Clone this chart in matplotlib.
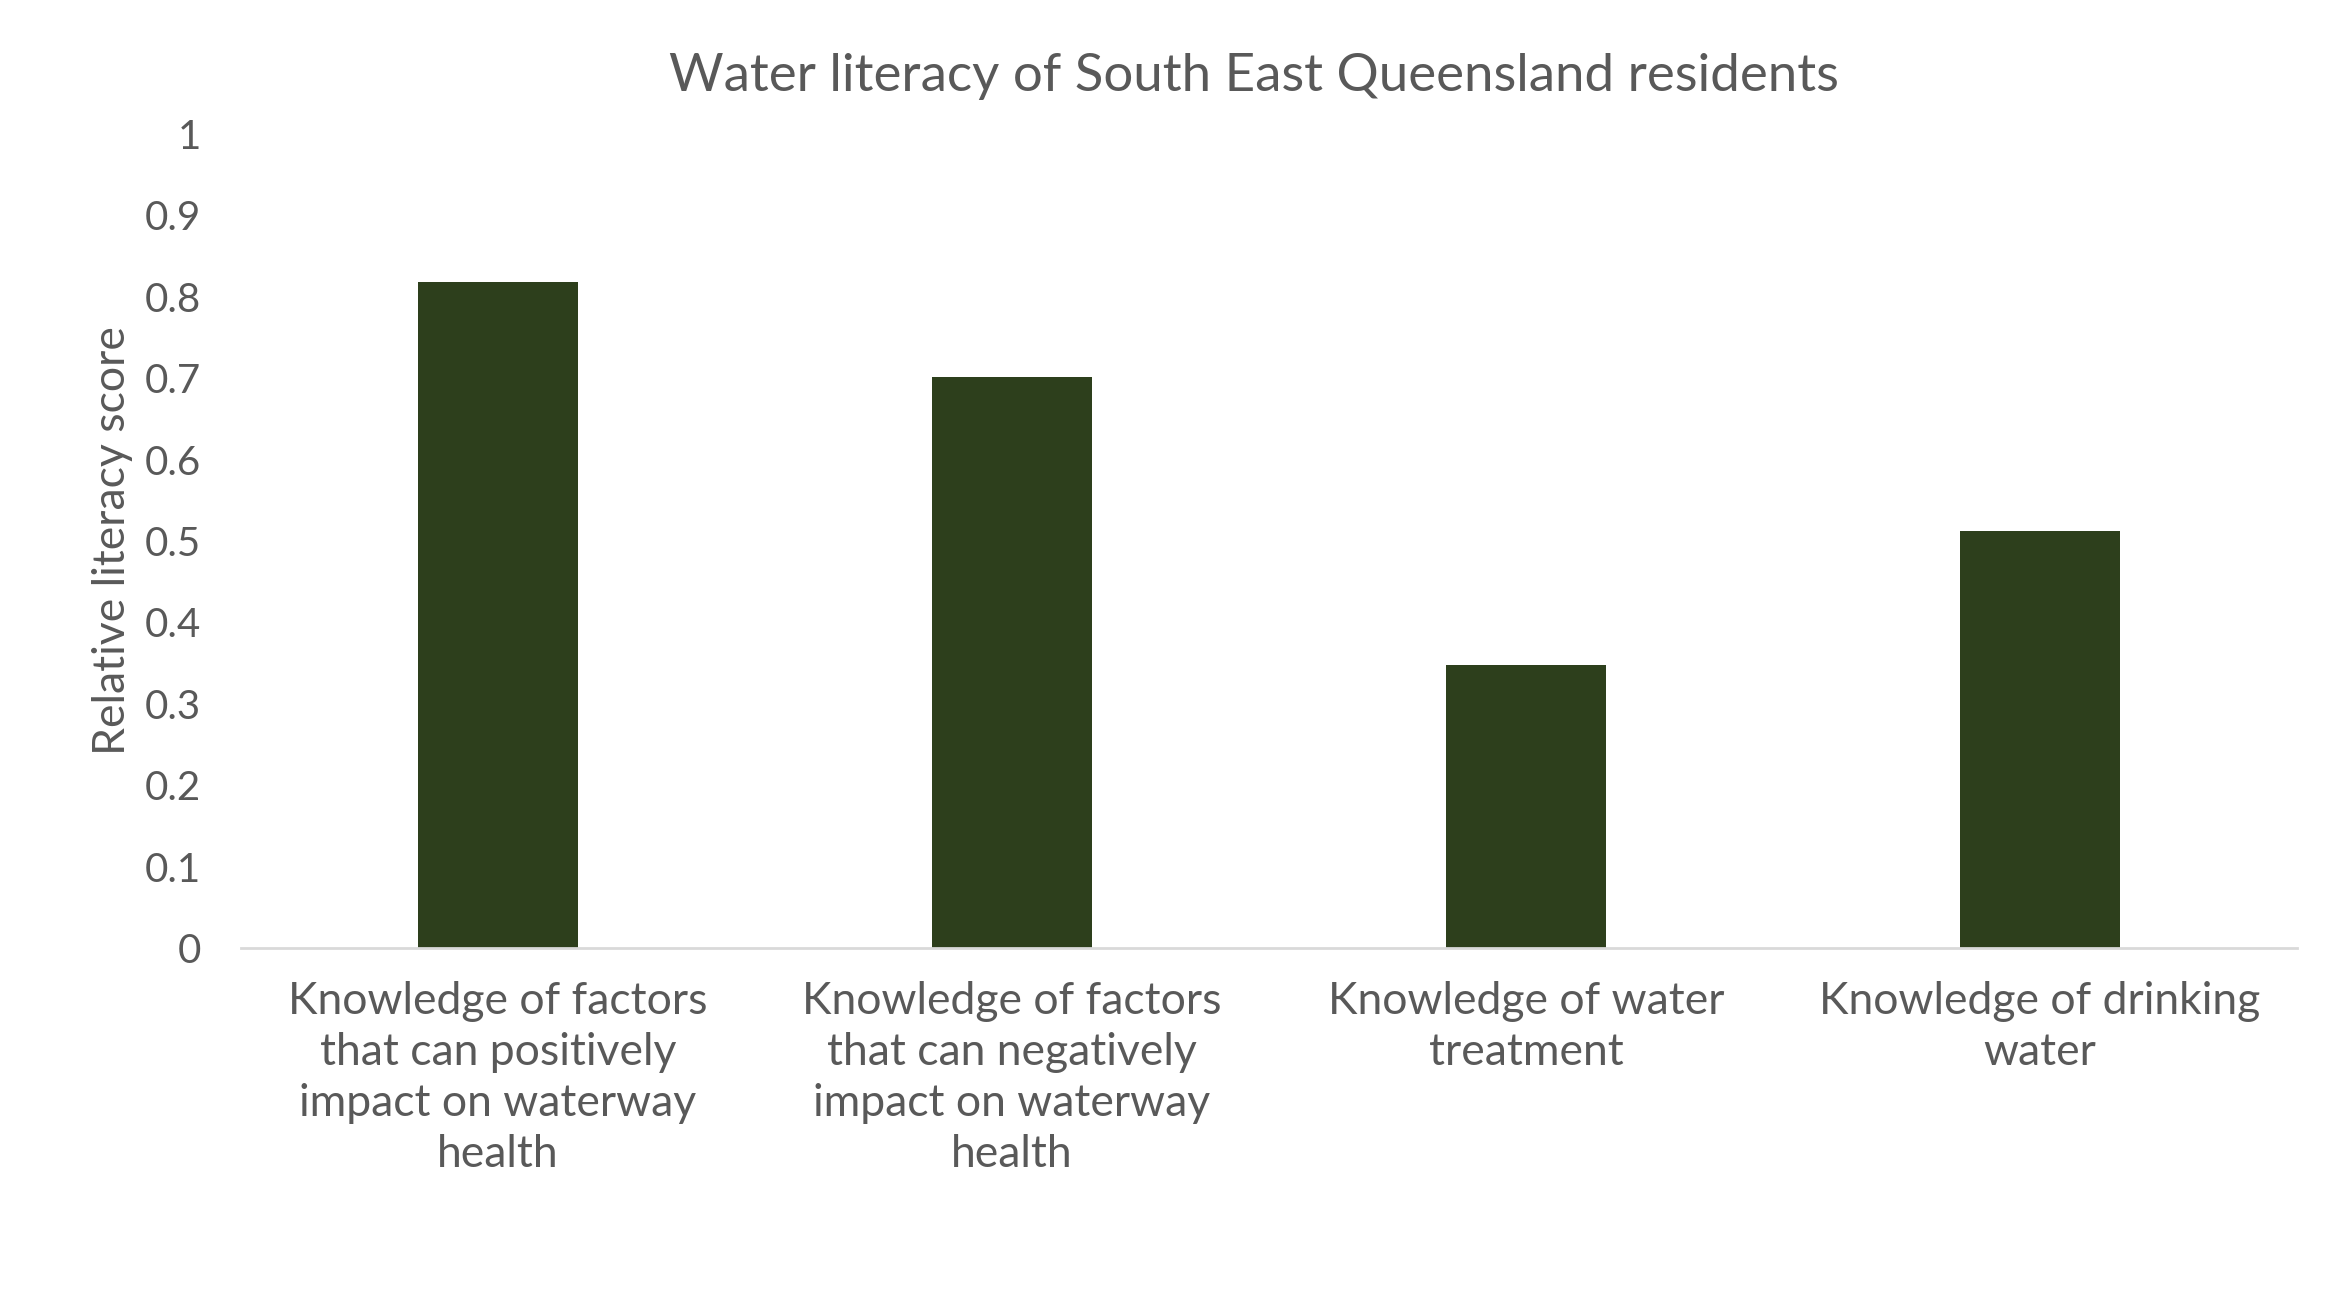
import numpy as np
import matplotlib.pyplot as plt

categories = [
    "Knowledge of factors\nthat can positively\nimpact on waterway\nhealth",
    "Knowledge of factors\nthat can negatively\nimpact on waterway\nhealth",
    "Knowledge of water\ntreatment",
    "Knowledge of drinking\nwater",
]
scores = [0.818, 0.701, 0.348, 0.512]
yticks = [0, 0.1, 0.2, 0.3, 0.4, 0.5, 0.6, 0.7, 0.8, 0.9, 1]
ytick_labels = ["0", "0.1", "0.2", "0.3", "0.4", "0.5", "0.6", "0.7", "0.8", "0.9", "1"]

grey = "#595959"
plt.rcParams['font.family'] = ['Lato', 'DejaVu Sans']

fig = plt.figure(figsize=(23.38, 13.12), dpi=100)
# axes box in pixels: left 241, right 2297, bottom 948, top 134
ax = fig.add_axes([241 / 2338, 1 - 948 / 1312, (2297 - 241) / 2338, (948 - 134) / 1312])

x = np.arange(len(categories))
ax.bar(x, scores, width=0.313, color="#2d3f1c")

ax.set_xlim(-0.5, len(categories) - 0.5)
ax.set_ylim(0, 1)
ax.set_yticks(yticks)
ax.set_yticklabels(ytick_labels, fontsize=29, color=grey)
ax.set_xticks(x)
ax.set_xticklabels(categories, fontsize=32, color=grey, linespacing=1.3)
ax.tick_params(axis='both', length=0)
ax.tick_params(axis='y', pad=29)
ax.tick_params(axis='x', pad=24)

for s in ['top', 'right', 'left']:
    ax.spines[s].set_visible(False)
ax.spines['bottom'].set_color("#d9d9d9")
ax.spines['bottom'].set_linewidth(2)

ax.set_ylabel("Relative literacy score", fontsize=32, color=grey, labelpad=8)
fig.text(0.5365, 1 - 77 / 1312, "Water literacy of South East Queensland residents",
         fontsize=38, color=grey, ha='center', va='center')

fig.savefig("out.png", dpi=100)
